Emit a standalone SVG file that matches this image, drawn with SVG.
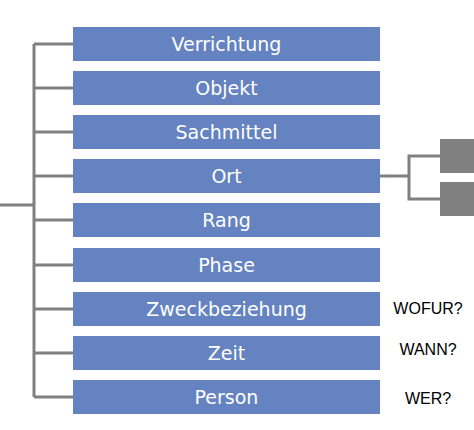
<svg xmlns="http://www.w3.org/2000/svg" width="474" height="430" viewBox="0 0 474 430">
<style>
.box{fill:#6483C0}
.gbox{fill:#808080}
.lbl{font-family:"DejaVu Sans",Verdana,sans-serif;font-size:19px;fill:#ffffff;text-anchor:middle}
.q{font-family:"Liberation Sans",Arial,sans-serif;font-size:16px;fill:#000000;text-anchor:middle}
.ln{stroke:#808080;stroke-width:3;fill:none}
</style>
<rect width="474" height="430" fill="#ffffff"/>
<g id="connectors">
<path class="ln" d="M0 205H34M34 44V397M34 44H73M34 88H73M34 132H73M34 176H73M34 220H73M34 265H73M34 309H73M34 353H73M34 397H73"/>
<path class="ln" d="M380 176H409M409 156H440M409 199H440M409 154.5V200.5"/>
</g>
<g id="n1"><rect class="box" x="73" y="27" width="307" height="34"/><text class="lbl" x="226.5" y="51">Verrichtung</text></g>
<g id="n2"><rect class="box" x="73" y="71" width="307" height="34"/><text class="lbl" x="226.5" y="95">Objekt</text></g>
<g id="n3"><rect class="box" x="73" y="115" width="307" height="34"/><text class="lbl" x="226.5" y="139">Sachmittel</text></g>
<g id="n4"><rect class="box" x="73" y="159" width="307" height="34"/><text class="lbl" x="226.5" y="183">Ort</text></g>
<g id="n5"><rect class="box" x="73" y="203" width="307" height="34"/><text class="lbl" x="226.5" y="227">Rang</text></g>
<g id="n6"><rect class="box" x="73" y="248" width="307" height="34"/><text class="lbl" x="226.5" y="272">Phase</text></g>
<g id="n7"><rect class="box" x="73" y="292" width="307" height="34"/><text class="lbl" x="226.5" y="315.5">Zweckbeziehung</text></g>
<g id="n8"><rect class="box" x="73" y="336" width="307" height="34"/><text class="lbl" x="226.5" y="360">Zeit</text></g>
<g id="n9"><rect class="box" x="73" y="380" width="307" height="34"/><text class="lbl" x="226.5" y="404">Person</text></g>
<g id="g1"><rect class="gbox" x="440" y="139" width="34" height="34"/></g>
<g id="g2"><rect class="gbox" x="440" y="182" width="34" height="34"/></g>
<g id="q1"><text class="q" x="428" y="314">WOFUR?</text></g>
<g id="q2"><text class="q" x="428" y="355">WANN?</text></g>
<g id="q3"><text class="q" x="428" y="404">WER?</text></g>
</svg>
